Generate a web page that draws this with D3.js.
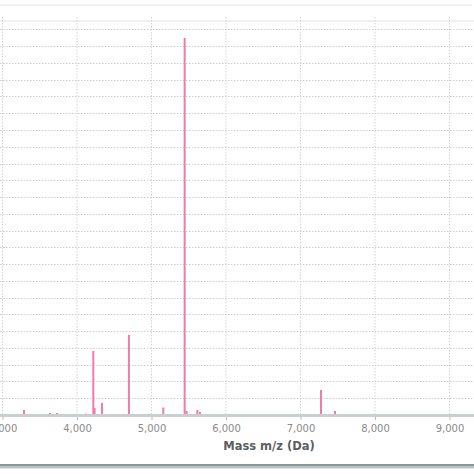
<!DOCTYPE html>
<html>
<head>
<meta charset="utf-8">
<script src="https://cdn.jsdelivr.net/npm/d3@7"></script>
<style>
  body { margin: 0; background: #fff; }
  svg { display: block; }
</style>
</head>
<body>
<script>
// peak list (mass in Da, intensity in arbitrary units)
var peakMass = [3289, 3638, 3732, 4121, 4219, 4236, 4336, 4697, 5158, 5445, 5472, 5615, 5650, 7275, 7463];
var peakIntensity = [30, 12, 12, 8, 382, 42, 72, 478, 45, 2248, 24, 30, 18, 149, 24];
var xTicks = [3000, 4000, 5000, 6000, 7000, 8000, 9000];
var xTitle = "Mass m/z (Da)";

var width = 474, height = 474;
var svg = d3.select("body").append("svg").attr("width", width).attr("height", height);

var plot = {left: -30, right: 474, top: 21, bottom: 415};

var x = d3.scaleLinear().domain([3000, 9000]).range([2.5, 449.5]);
var y = d3.scaleLinear().domain([0, 2350]).range([plot.bottom, plot.top]);

// faint window edge at the top
svg.append("line")
  .attr("x1", 0).attr("x2", 472).attr("y1", 5).attr("y2", 5)
  .attr("stroke", "#eeeeee").attr("stroke-width", 1.5);

// plot top border
svg.append("line")
  .attr("x1", plot.left).attr("x2", plot.right).attr("y1", plot.top).attr("y2", plot.top)
  .attr("stroke", "#e2e2e2");

// horizontal grid
svg.append("g")
  .selectAll("line")
  .data(d3.range(100, 2350, 100))
  .join("line")
    .attr("x1", plot.left).attr("x2", plot.right)
    .attr("y1", function(d) { return Math.round(y(d)) + 0.5; })
    .attr("y2", function(d) { return Math.round(y(d)) + 0.5; })
    .attr("stroke", "#cfcfcf")
    .attr("stroke-dasharray", "1.5,1.5");

// vertical grid
svg.append("g")
  .selectAll("line")
  .data(xTicks)
  .join("line")
    .attr("x1", function(d) { return x(d); }).attr("x2", function(d) { return x(d); })
    .attr("y1", plot.top - 4).attr("y2", plot.bottom)
    .attr("stroke", "#d4d4d4")
    .attr("stroke-dasharray", "1.5,1.5");

// peaks
var line = d3.line()
  .x(function(d) { return x(d[0]); })
  .y(function(d) { return y(d[1]); });

svg.append("g")
  .selectAll("path")
  .data(peakMass.map(function(m, i) { return [[m, 0], [m, peakIntensity[i]]]; }))
  .join("path")
    .attr("d", line)
    .attr("fill", "none")
    .attr("stroke", "#f07aa8")
    .attr("stroke-width", 2);

// baseline
svg.append("rect")
  .attr("x", 0).attr("y", plot.bottom - 1)
  .attr("width", width).attr("height", 3)
  .attr("fill", "#c9cfcf");

// x axis
var xAxis = d3.axisBottom(x)
  .tickValues(xTicks)
  .tickFormat(d3.format(","))
  .tickSize(3)
  .tickPadding(5);

var gx = svg.append("g")
  .attr("transform", "translate(0," + (plot.bottom + 2) + ")")
  .call(xAxis);
gx.select(".domain").remove();
gx.selectAll(".tick line").attr("stroke", "#bbbbbb");
gx.selectAll(".tick text")
  .attr("fill", "#8a8a8a")
  .attr("font-family", "DejaVu Sans, sans-serif")
  .attr("font-size", "10px");

svg.append("text")
  .attr("x", 269).attr("y", 450)
  .attr("text-anchor", "middle")
  .attr("font-family", "DejaVu Sans, sans-serif")
  .attr("font-weight", "bold")
  .attr("font-size", "11.5px")
  .attr("fill", "#5a5f5f")
  .text(xTitle);

// window frame at the bottom
svg.append("rect").attr("x", 0).attr("y", 464).attr("width", width).attr("height", 2).attr("fill", "#8a9898");
svg.append("rect").attr("x", 0).attr("y", 466).attr("width", width).attr("height", 2).attr("fill", "#b7c2c2");
svg.append("rect").attr("x", 0).attr("y", 468).attr("width", width).attr("height", 1).attr("fill", "#dfe5e5");
</script>
</body>
</html>
